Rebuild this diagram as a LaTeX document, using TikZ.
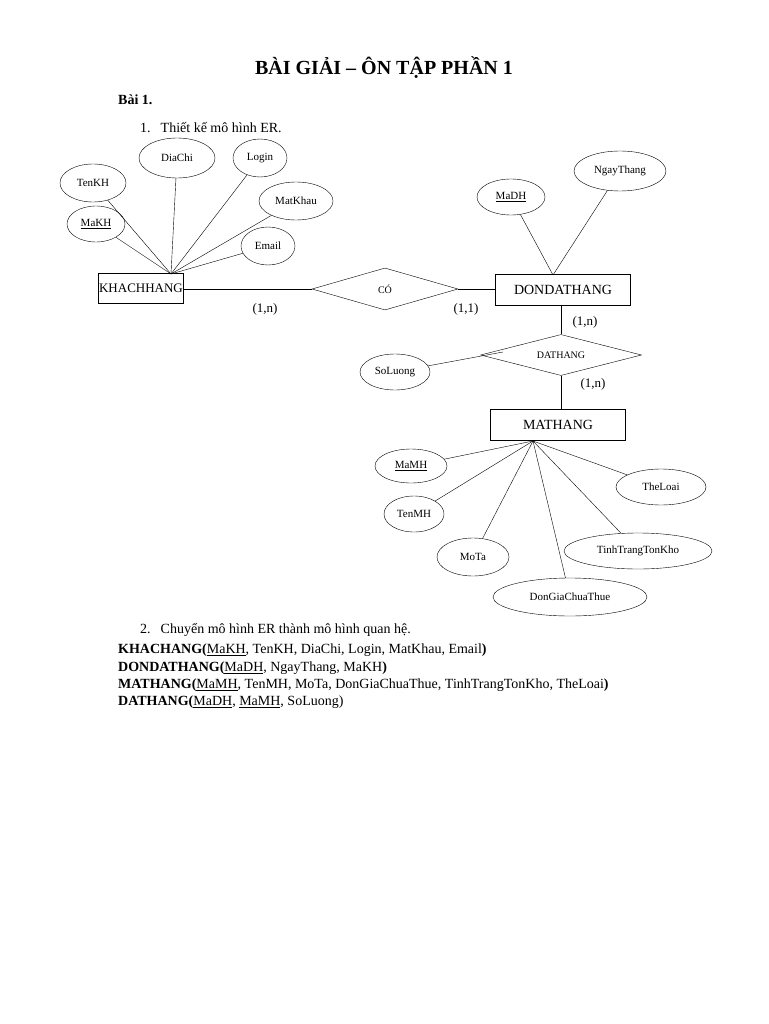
\documentclass[tikz,border=0pt]{standalone}
\usepackage{fontspec}
\setmainfont{Liberation Serif}
\usetikzlibrary{shapes.geometric}
\begin{document}
\begin{tikzpicture}[x=1pt,y=-1pt,
 attr/.style={draw,ellipse,inner sep=0pt,font=\fontsize{11}{12}\selectfont},
 ent/.style={draw,thick,rectangle,inner sep=0pt,font=\fontsize{14}{16}\selectfont},
 rel/.style={draw,diamond,aspect=3.5,inner sep=0pt,font=\fontsize{10}{12}\selectfont},
 card/.style={font=\fontsize{13}{15}\selectfont},
 txt/.style={anchor=west,inner sep=0pt,font=\fontsize{14}{16}\selectfont}]
\useasboundingbox[fill=white] (0,0) rectangle (768,1024);
\node[font=\fontsize{20}{22}\selectfont\bfseries] (title) at (384,68) {BÀI GIẢI – ÔN TẬP PHẦN 1};
\node[txt,font=\fontsize{14}{16}\selectfont\bfseries] (bai) at (118,100) {Bài 1.};
\node[txt] (s1) at (140,128) {1.\hspace{10pt}Thiết kế mô hình ER.};
% KHACHHANG
\node[ent,minimum width=85,minimum height=30,font=\fontsize{13}{15}\selectfont] (kh) at (141,288) {KHACHHANG};
\coordinate (khc) at (171,274);
\node[attr,minimum width=76,minimum height=40] (diachi) at (177,158) {DiaChi};
\node[attr,minimum width=54,minimum height=38] (login) at (260,158) {Login};
\node[attr,minimum width=66,minimum height=38] (tenkh) at (93,183) {TenKH};
\node[attr,minimum width=74,minimum height=38] (matkhau) at (296,201) {MatKhau};
\node[attr,minimum width=58,minimum height=36] (makh) at (96,224) {\underline{MaKH}};
\node[attr,minimum width=54,minimum height=38] (email) at (268,246) {Email};
\foreach \a in {diachi,login,tenkh,matkhau,makh,email} \draw (khc) -- (\a);
% CO
\node[rel,minimum width=146,minimum height=42] (co) at (385,289) {CÓ};
\node[ent,minimum width=135,minimum height=31] (dh) at (563,290) {DONDATHANG};
\draw (kh.east |- co) -- (co.west);
\draw (co.east) -- (dh.west |- co);
\node[card] (c1) at (265,309) {(1,n)};
\node[card] (c2) at (466,309) {(1,1)};
\coordinate (dhc) at (553,275);
\node[attr,minimum width=68,minimum height=36] (madh) at (511,197) {\underline{MaDH}};
\node[attr,minimum width=92,minimum height=40] (ngay) at (620,171) {NgayThang};
\draw (dhc) -- (madh); \draw (dhc) -- (ngay);
% DATHANG
\node[rel,minimum width=161,minimum height=41] (dat) at (561,355) {DATHANG};
\draw (dat.north) -- (dat.north |- dh.south);
\node[card] (c3) at (585,322) {(1,n)};
\node[attr,minimum width=70,minimum height=36] (soluong) at (395,372) {SoLuong};
\draw (soluong) -- (503,352);
\node[ent,minimum width=135,minimum height=31] (mh) at (558,425) {MATHANG};
\draw (dat.south) -- (dat.south |- mh.north);
\node[card] (c4) at (593,384) {(1,n)};
\coordinate (mhc) at (533,441);
\node[attr,minimum width=72,minimum height=34] (mamh) at (411,466) {\underline{MaMH}};
\node[attr,minimum width=60,minimum height=36] (tenmh) at (414,514) {TenMH};
\node[attr,minimum width=90,minimum height=36] (theloai) at (661,487) {TheLoai};
\node[attr,minimum width=72,minimum height=38] (mota) at (473,557) {MoTa};
\node[attr,minimum width=148,minimum height=36] (tinh) at (638,551) {TinhTrangTonKho};
\node[attr,minimum width=154,minimum height=38] (dongia) at (570,597) {DonGiaChuaThue};
\foreach \a in {mamh,tenmh,theloai,mota,tinh,dongia} \draw (mhc) -- (\a);
% section 2
\node[txt] (s2) at (140,630) {2.\hspace{10pt}Chuyển mô hình ER thành mô hình quan hệ.};
\node[txt] (r1) at (118,650) {\textbf{KHACHANG(}\underline{MaKH}, TenKH, DiaChi, Login, MatKhau, Email\textbf{)}};
\node[txt] (r2) at (118,668) {\textbf{DONDATHANG(}\underline{MaDH}, NgayThang, MaKH\textbf{)}};
\node[txt] (r3) at (118,685) {\textbf{MATHANG(}\underline{MaMH}, TenMH, MoTa, DonGiaChuaThue, TinhTrangTonKho, TheLoai\textbf{)}};
\node[txt] (r4) at (118,702) {\textbf{DATHANG(}\underline{MaDH}, \underline{MaMH}, SoLuong)};
\end{tikzpicture}
\end{document}
